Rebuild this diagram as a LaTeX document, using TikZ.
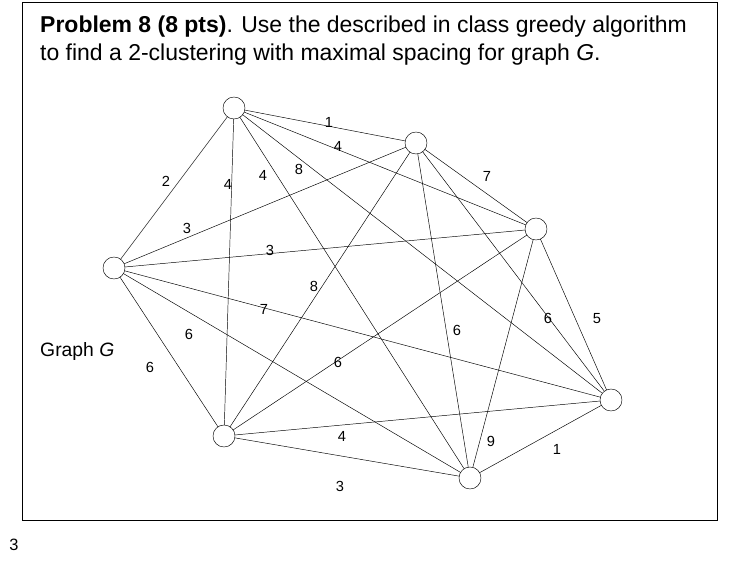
\documentclass[tikz,border=0pt]{standalone}
\usepackage{fontspec}
\setmainfont{Liberation Sans}
\usetikzlibrary{positioning}
\tikzset{vtx/.style={circle,draw,minimum size=0.66cm,inner sep=0pt,fill=white},
  wt/.style={font=\fontsize{12.5}{14}\selectfont,inner sep=1pt}}

\begin{document}
\begin{tikzpicture}[x=0.03cm,y=-0.03cm]
        \useasboundingbox (0,0) rectangle (732,560);
        \node[draw,minimum width=695*0.03cm,minimum height=518*0.03cm,anchor=north west,line width=0.7pt] (frame) at (22,2) {};
        \node[anchor=north west,align=left,font=\fontsize{19.6}{24}\selectfont,inner sep=0pt] (title) at (40,16)
          {\textbf{Problem 8 (8 pts)}. Use the described in class greedy algorithm\\to find a 2-clustering with maximal spacing for graph \textit{G}.};
        \node[font=\fontsize{16.5}{19}\selectfont,anchor=west,inner sep=0pt] (gname) at (40,351) {Graph \textit{G}};
        \node[font=\fontsize{14}{16}\selectfont,inner sep=0pt] (page) at (14,545) {3};

        \coordinate (pa) at (234,108);
        \coordinate (pb) at (416,143);
        \coordinate (pc) at (536,229);
        \coordinate (pd) at (611,400);
        \coordinate (pe) at (470,478);
        \coordinate (pf) at (224,436);
        \coordinate (pg) at (114,268);

        \foreach \u/\v in {a/b,a/c,a/d,a/e,a/f,a/g,b/c,b/d,b/e,b/f,b/g,c/d,c/e,c/f,c/g,d/e,d/f,d/g,e/f,e/g,f/g}
            \draw[line width=0.4pt] (p\u) -- (p\v);

        \foreach \n in {a,b,c,d,e,f,g}
            \node[vtx] (\n) at (p\n) {};

        \node[wt] (w1) at (329,122) {1};
        \node[wt] (w2) at (338,146) {4};
        \node[wt] (w3) at (487,176) {7};
        \node[wt] (w4) at (597,319) {5};
        \node[wt] (w5) at (557,449) {1};
        \node[wt] (w6) at (340,486) {3};
        \node[wt] (w7) at (150,367) {6};
        \node[wt] (w8) at (166,181) {2};
        \node[wt] (w9) at (187,228) {3};
        \node[wt] (w10) at (270,250) {3};
        \node[wt] (w11) at (264,309) {7};
        \node[wt] (w12) at (189,334) {6};
        \node[wt] (w13) at (228,184) {4};
        \node[wt] (w14) at (263,175) {4};
        \node[wt] (w15) at (299,169) {8};
        \node[wt] (w16) at (314,286) {8};
        \node[wt] (w17) at (338,362) {6};
        \node[wt] (w18) at (457,330) {6};
        \node[wt] (w19) at (491,441) {9};
        \node[wt] (w20) at (342,436) {4};
        \node[wt] (w21) at (548,318) {6};
\end{tikzpicture}
\end{document}
